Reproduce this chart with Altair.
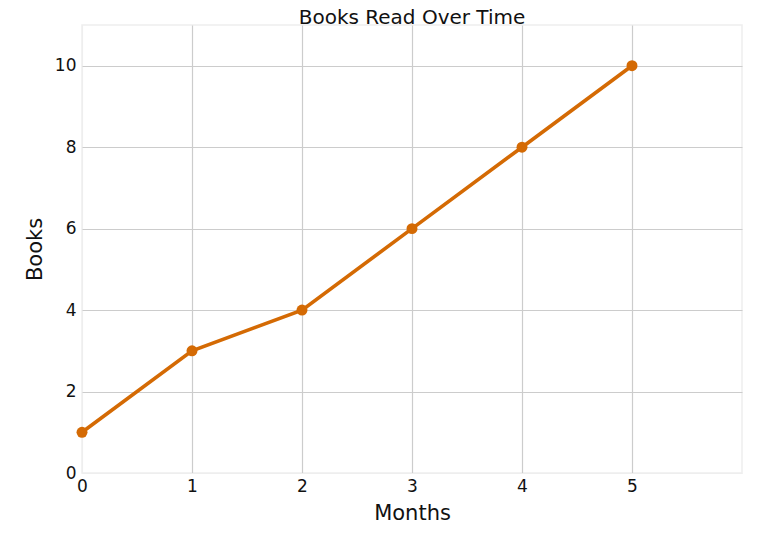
import altair as alt
import pandas as pd

months = [0, 1, 2, 3, 4, 5]
books = [1, 3, 4, 6, 8, 10]

df = pd.DataFrame({"Months": months, "Books": books})

FONT = "DejaVu Sans"
COLOR = "#d46a04"

grid_color = alt.condition("datum.value == 0", alt.value("#eeeeee"), alt.value("#cccccc"))

x = alt.X("Months:Q", title="Months",
          scale=alt.Scale(domain=[0, 6], nice=False, zero=False),
          axis=alt.Axis(values=[0, 1, 2, 3, 4, 5], format="d", grid=True,
                        gridColor=grid_color, gridWidth=1.2, labelFlush=False,
                        domain=False, ticks=False, labelFontSize=17,
                        labelPadding=5, titleFontSize=21, titlePadding=8,
                        labelColor="#111", titleColor="#111",
                        labelFont=FONT, titleFont=FONT, titleFontWeight="normal"))
y = alt.Y("Books:Q", title="Books",
          scale=alt.Scale(domain=[0, 11], nice=False),
          axis=alt.Axis(values=[0, 2, 4, 6, 8, 10], format="d", grid=True,
                        gridColor=grid_color, gridWidth=1.2, labelFlush=False,
                        domain=False, ticks=False, labelFontSize=17,
                        labelPadding=6, titleFontSize=21, titlePadding=9,
                        labelColor="#111", titleColor="#111",
                        labelFont=FONT, titleFont=FONT, titleFontWeight="normal"))

line = alt.Chart(df).mark_line(color=COLOR, strokeWidth=3.6).encode(x=x, y=y)
pts = alt.Chart(df).mark_circle(color=COLOR, size=120, opacity=1).encode(x=x, y=y)

chart = alt.layer(line, pts).properties(
    width=660, height=448,
    title=alt.TitleParams("Books Read Over Time", fontSize=20, font=FONT,
                          fontWeight="normal", color="#111", anchor="middle",
                          offset=2, dy=5),
    autosize=alt.AutoSizeParams(type="none"),
    padding={"left": 74, "top": 17, "right": 30, "bottom": 62},
).configure_view(stroke="#eeeeee", strokeWidth=1.5)

chart.save("out.html", embed_options={"renderer": "svg", "actions": False})
